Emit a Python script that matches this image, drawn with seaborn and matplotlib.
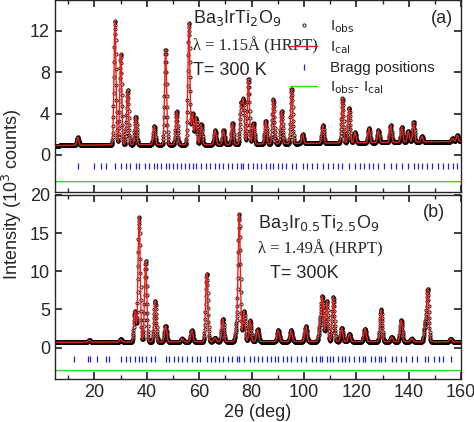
import numpy as np
import matplotlib
matplotlib.use("Agg")
import matplotlib.pyplot as plt
import seaborn as sns

# peak positions (2theta) and peak tops (10^3 counts)
pos_a = [13.7, 27.9, 30.1, 32.7, 35.8, 42.9, 47.2, 51.4, 56.1, 57.5, 58.8, 60.8,
         66.1, 69.3, 72.7, 76.0, 76.9, 78.8, 80.7, 85.4, 88.3, 91.5, 95.3, 99.5,
         107.2, 114.7, 117.2, 119.5, 124.8, 128.4, 133.1, 137.3, 139.8, 141.8,
         145.0, 156.7, 158.5]
top_a = [1.7, 13.0, 9.8, 6.3, 3.7, 2.8, 10.2, 4.2, 12.8, 4.0, 3.6, 3.0,
         2.4, 2.4, 3.1, 4.8, 5.2, 7.4, 3.1, 3.3, 5.4, 4.3, 6.4, 2.0,
         2.9, 5.5, 4.6, 2.2, 2.6, 2.4, 2.9, 2.7, 2.3, 3.2,
         1.8, 1.6, 1.9]
bg_a = [0.9, 1.0, 1.0, 1.1, 1.2, 1.3]

pos_b = [18.1, 30.1, 35.5, 37.1, 39.6, 43.2, 47.2, 53.5, 57.2, 62.9, 66.0, 69.0,
         74.3, 75.3, 77.1, 79.4, 82.3, 90.2, 95.1, 100.7, 106.1, 107.0, 108.7,
         111.2, 114.4, 117.3, 123.3, 129.4, 133.5, 137.1, 141.1, 146.2, 147.2, 156.0]
top_b = [1.0, 1.1, 4.8, 17.1, 11.4, 6.1, 2.9, 1.2, 2.3, 9.7, 1.3, 3.8,
         2.8, 17.4, 4.8, 3.6, 2.4, 2.3, 2.3, 2.8, 2.8, 6.6, 6.1,
         6.6, 2.6, 1.8, 2.5, 5.0, 1.4, 3.6, 1.2, 2.7, 7.6, 1.2]
bg_b = [0.7, 0.75, 0.8, 0.8, 0.8, 0.75]

# Bragg reflection positions
bragg_a = [13.7, 20.0, 22.5, 24.5, 27.9, 30.1, 32.0, 33.5, 35.8, 37.0, 39.5, 40.8,
           42.9, 44.0, 45.5, 47.2, 48.5, 50.0, 51.4, 53.0, 54.5, 56.1, 57.5,
           58.8, 60.8, 62.5, 64.0, 66.1, 67.5, 69.3, 71.0, 72.7, 74.5, 76.0,
           76.9, 78.8, 80.7, 82.0, 83.5, 85.4, 87.0, 88.3, 90.0, 91.5, 93.0,
           95.3, 97.0, 99.5, 101.0, 103.0, 105.0, 107.2, 109.0, 111.0, 113.0,
           114.7, 117.2, 119.5, 121.5, 123.0, 124.8, 126.5, 128.4, 130.5,
           133.1, 135.0, 137.3, 139.8, 141.8, 143.5, 145.0, 147.0, 149.0,
           151.0, 153.0, 155.0, 156.7, 158.5]
bragg_b = [12.3, 17.5, 18.5, 21.0, 24.5, 25.5, 30.1, 32.0, 33.5, 35.5, 37.1, 38.3,
           39.6, 41.5, 43.2, 47.2, 48.5, 50.5, 52.0, 53.5, 55.5, 57.2, 59.0, 60.5,
           62.9, 64.5, 66.0, 67.5, 69.0, 71.0, 72.5, 74.3, 75.3, 77.1, 79.4,
           81.0, 82.3, 84.0, 86.0, 87.5, 89.0, 90.2, 92.0, 93.5, 95.1, 97.5,
           99.0, 100.7, 103.0, 104.5, 106.1, 107.0, 108.7, 110.0, 111.2, 113.0,
           114.4, 115.5, 117.3, 119.0, 121.0, 122.5, 123.3, 125.5, 127.0, 128.5,
           129.4, 131.0, 133.5, 135.0, 137.1, 139.0, 141.1, 143.0, 146.2, 147.2,
           149.5, 151.5, 153.0, 156.0]

x = np.arange(5, 160.01, 0.08)


def profile(pos, top, bg, width):
    grid = np.linspace(5, 160, len(bg))
    y = np.interp(x, grid, bg)
    for p, h in zip(pos, top):
        y += (h - np.interp(p, grid, bg)) * np.exp(-0.5 * ((x - p) / width) ** 2)
    return y


sns.set_theme(style="ticks")
plt.rcParams["font.family"] = ["Liberation Sans", "DejaVu Sans"]

fig = plt.figure(figsize=(4.74, 4.22), dpi=100)
ax1 = fig.add_axes([0.116, 0.545, 0.857, 0.455])
ax2 = fig.add_axes([0.116, 0.102, 0.857, 0.436])

panels = [
    (ax1, pos_a, top_a, bg_a, bragg_a, -1.05, -2.6, (-3.6, 15.0), [0, 4, 8, 12], 0.38),
    (ax2, pos_b, top_b, bg_b, bragg_b, -1.55, -3.0, (-4.1, 20.0), [0, 5, 10, 15, 20], 0.42),
]
for ax, pos, top, bg, bragg, yb, yd, ylim, yt, w in panels:
    ycal = profile(pos, top, bg, w)
    ax.plot(x, ycal, "o", mfc="none", mec="black", ms=2.3, mew=0.6, label=r"I$_{\rm obs}$")
    ax.plot(x, ycal, color="#e8201c", lw=1.0, label=r"I$_{\rm cal}$")
    ax.plot(bragg, [yb] * len(bragg), "|", color="#2222cc", ms=5, mew=0.9,
            label="Bragg positions")
    ax.plot(x, np.full_like(x, yd), color="#22e022", lw=1.0,
            label=r"I$_{\rm obs}$- I$_{\rm cal}$")
    ax.set_xlim(5, 160)
    ax.set_ylim(*ylim)
    ax.set_yticks(yt)
    ax.set_xticks(range(20, 161, 20))
    ax.set_xticks(range(10, 161, 10), minor=True)
    ax.tick_params(which="both", direction="in", top=True, right=True, labelsize=13)
    ax.tick_params(which="major", length=5)
    ax.tick_params(which="minor", length=3)
    for s in ax.spines.values():
        s.set_linewidth(1.0)

ax1.tick_params(labelbottom=False)
ax1.legend(loc="upper right", bbox_to_anchor=(0.96, 0.96), frameon=False, fontsize=11,
           handlelength=1.8, labelspacing=0.3, borderpad=0.2)
ax1.text(0.98, 0.88, "(a)", transform=ax1.transAxes, ha="right", fontsize=13)
ax2.text(0.96, 0.88, "(b)", transform=ax2.transAxes, ha="right", fontsize=13)

ax1.text(0.34, 0.88, r"Ba$_3$IrTi$_2$O$_9$", transform=ax1.transAxes, fontsize=13)
ax1.text(0.34, 0.74, "λ = 1.15Å (HRPT)", transform=ax1.transAxes, fontsize=12,
         family=["Liberation Serif", "DejaVu Serif"])
ax1.text(0.34, 0.61, "T= 300 K", transform=ax1.transAxes, fontsize=13)
ax2.text(0.5, 0.82, r"Ba$_3$Ir$_{0.5}$Ti$_{2.5}$O$_9$", transform=ax2.transAxes, fontsize=13)
ax2.text(0.5, 0.68, "λ = 1.49Å (HRPT)", transform=ax2.transAxes, fontsize=12,
         family=["Liberation Serif", "DejaVu Serif"])
ax2.text(0.53, 0.55, "T= 300K", transform=ax2.transAxes, fontsize=13)

ax2.set_xlabel("2θ (deg)", fontsize=13, labelpad=2)
fig.text(0.0, 0.54, r"Intensity (10$^3$ counts)", rotation=90, va="center", fontsize=13)

fig.savefig("out.png", dpi=100)
